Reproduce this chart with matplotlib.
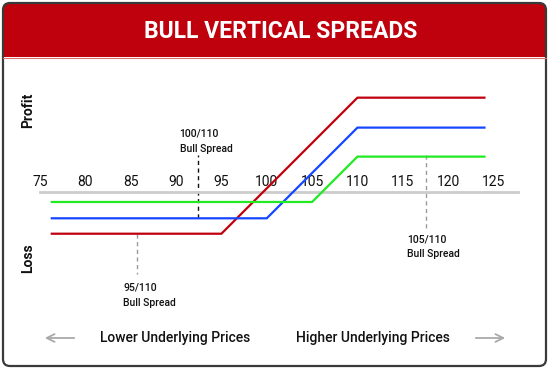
import matplotlib.pyplot as plt
from matplotlib.patches import FancyBboxPatch, Rectangle

############### Data ###############
strikes_lo = [95, 100, 105]
strike_hi = 110
price_start = 76.3
price_end = 124.0
debits = [4.6, 2.9, 1.1]
spread_colors = ['#c0000e', '#1646ff', '#22ea22']

tick_values = [75, 80, 85, 90, 95, 100, 105, 110, 115, 120, 125]

notes = [
    # label, x price, line from, line to, text x, text y, line colour
    ('95/110\nBull Spread', 85.7, -4.6, -9.0, 84.2, -11.4, '#999999'),
    ('100/110\nBull Spread', 92.4, -2.9, 4.1, 90.4, 5.6, '#111111'),
    ('105/110\nBull Spread', 117.6, 4.1, -4.0, 115.5, -6.0, '#999999'),
]

############### Figure ###############
W, H = 549, 369
fig = plt.figure(figsize=(W / 100, H / 100), dpi=100)

# background canvas in pixel units for the frame and header
bg = fig.add_axes([0, 0, 1, 1])
bg.set_xlim(0, W)
bg.set_ylim(H, 0)
bg.axis('off')

bg.add_patch(FancyBboxPatch((3, 3), W - 6, H - 6, boxstyle='round,pad=0,rounding_size=7',
                            facecolor='white', edgecolor='none'))
bg.add_patch(FancyBboxPatch((3, 3), W - 6, 54, boxstyle='round,pad=0,rounding_size=7',
                            facecolor='#bf000d', edgecolor='none'))
bg.add_patch(Rectangle((3, 30), W - 6, 27, facecolor='#bf000d', edgecolor='none'))
bg.plot([3, W - 3], [57.5, 57.5], color='#e07070', lw=0.8)
bg.add_patch(FancyBboxPatch((3, 3), W - 6, H - 6, boxstyle='round,pad=0,rounding_size=7',
                            facecolor='none', edgecolor='#3a3a3a', lw=1.6))
bg.text(281, 32, 'BULL VERTICAL SPREADS', color='white', fontsize=16.5, fontweight='bold',
        family='Roboto', ha='center', va='center')

bg.text(28, 110, 'Profit', rotation=90, fontsize=10, fontweight='bold', family='Roboto',
        ha='center', va='center', color='#111111')
bg.text(28, 258, 'Loss', rotation=90, fontsize=10, fontweight='bold', family='Roboto',
        ha='center', va='center', color='#111111')

bg.text(175, 338, 'Lower Underlying Prices', fontsize=10, fontweight='medium',
        family='Roboto', ha='center', va='center', color='#111111')
bg.text(373, 338, 'Higher Underlying Prices', fontsize=10, fontweight='medium',
        family='Roboto', ha='center', va='center', color='#111111')
bg.annotate('', xy=(42, 338), xytext=(77, 338),
            arrowprops=dict(arrowstyle='->', color='#aaaaaa', lw=1.3, mutation_scale=14))
bg.annotate('', xy=(508, 338), xytext=(473, 338),
            arrowprops=dict(arrowstyle='->', color='#aaaaaa', lw=1.3, mutation_scale=14))

############### Payoff chart ###############
ax_l, ax_r, ax_t, ax_b = 40, 518, 80, 290
ax = fig.add_axes([ax_l / W, 1 - ax_b / H, (ax_r - ax_l) / W, (ax_b - ax_t) / H])
ax.patch.set_alpha(0)
ax.set_xlim(75, 127.7)
ax.set_ylim(-(ax_b - 192) / 9.07, (192 - ax_t) / 9.07)

for lo, debit, col in zip(strikes_lo, debits, spread_colors):
    xs = [price_start, lo, strike_hi, price_end]
    ys = [-debit, -debit, strike_hi - lo - debit, strike_hi - lo - debit]
    ax.plot(xs, ys, color=col, lw=1.6, solid_joinstyle='miter', zorder=3)

for label, xp, y0, y1, tx, ty, lc in notes:
    ax.plot([xp, xp], [y0, y1], color=lc, lw=1, ls=(0, (3, 2.5)), zorder=2)
    ax.text(tx, ty, label, fontsize=7.5, fontweight='medium', family='Roboto',
            ha='left', va='center', linespacing=1.6, color='#111111')

for s in ['left', 'right', 'bottom']:
    ax.spines[s].set_visible(False)
ax.spines['top'].set_position(('data', 0))
ax.spines['top'].set_color('#cccccc')
ax.spines['top'].set_linewidth(2)
ax.xaxis.set_ticks_position('top')
ax.set_xticks(tick_values)
ax.set_xticklabels([str(v) for v in tick_values], fontsize=10, family='Roboto')
ax.tick_params(axis='x', length=0, pad=2, colors='#111111')
ax.set_yticks([])

fig.savefig('out.png', dpi=100)
